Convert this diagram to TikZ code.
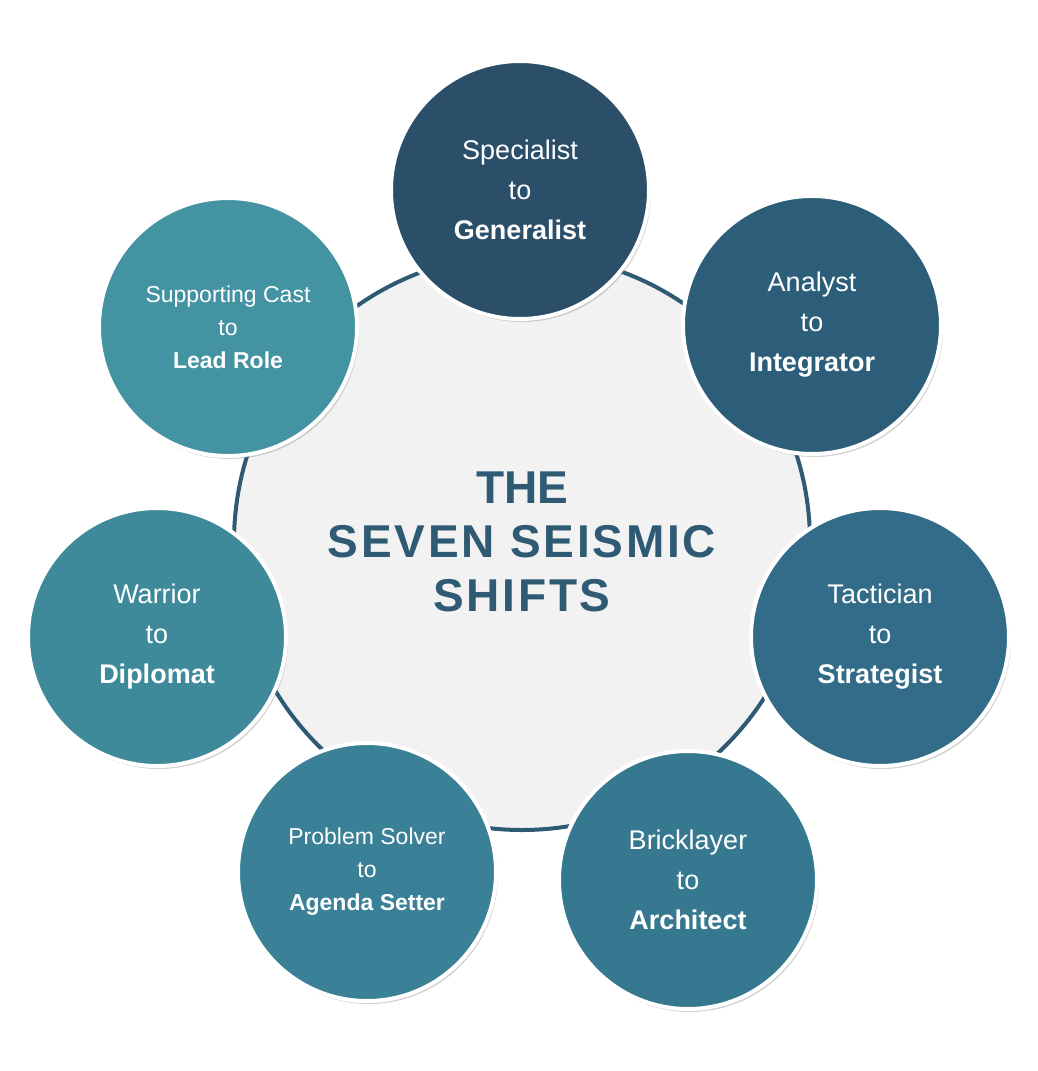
\documentclass[tikz,border=0pt]{standalone}
\usepackage{fontspec}
\setmainfont{Liberation Sans}
\usetikzlibrary{shadows}
\definecolor{HubLine}{HTML}{2E5A73}
\definecolor{HubFill}{HTML}{F2F2F2}
\definecolor{ShiftA}{HTML}{2B4F68}
\definecolor{ShiftB}{HTML}{2C5E7A}
\definecolor{ShiftC}{HTML}{326C88}
\definecolor{ShiftD}{HTML}{367890}
\definecolor{ShiftE}{HTML}{3A8096}
\definecolor{ShiftF}{HTML}{3E8A9A}
\definecolor{ShiftG}{HTML}{4393A2}

\begin{document}
\begin{tikzpicture}[
				x=1pt, y=-1pt,
				hub/.style={
					circle,
					draw=HubLine,
					line width=4pt,
					fill=HubFill,
					minimum size=576pt,
					align=center,
					text=HubLine,
					font=\fontsize{46}{56}\selectfont\bfseries
				},
				shiftnode/.style={
					circle,
					draw=white,
					line width=4pt,
					minimum size=258pt,
					text=white,
					align=center,
					drop shadow={opacity=0.35, shadow xshift=2pt, shadow yshift=-3pt},
					font=\fontsize{27}{40}\selectfont
				}
				]
				\useasboundingbox (0,0) rectangle (1038,1071);
				\node[hub] (hub) at (522,542) {THE\\[-2pt]\addfontfeature{LetterSpace=6}SEVEN SEISMIC\\[-2pt]\addfontfeature{LetterSpace=6}SHIFTS};
				\node[shiftnode, fill=ShiftA] (gen) at (520,190) {Specialist\\to\\\textbf{Generalist}};
				\node[shiftnode, fill=ShiftB] (int) at (812,325) {Analyst\\to\\\textbf{Integrator}};
				\node[shiftnode, fill=ShiftC] (str) at (880,637) {Tactician\\to\\\textbf{Strategist}};
				\node[shiftnode, fill=ShiftD] (arc) at (688,880) {Bricklayer\\to\\\textbf{Architect}};
				\node[shiftnode, fill=ShiftE, font=\fontsize{23}{33}\selectfont] (age) at (367,872) {Problem Solver\\to\\\textbf{Agenda Setter}};
				\node[shiftnode, fill=ShiftF] (dip) at (157,637) {Warrior\\to\\\textbf{Diplomat}};
				\node[shiftnode, fill=ShiftG, font=\fontsize{23}{33}\selectfont] (lead) at (228,327) {Supporting Cast\\to\\\textbf{Lead Role}};
			\end{tikzpicture}
\end{document}
